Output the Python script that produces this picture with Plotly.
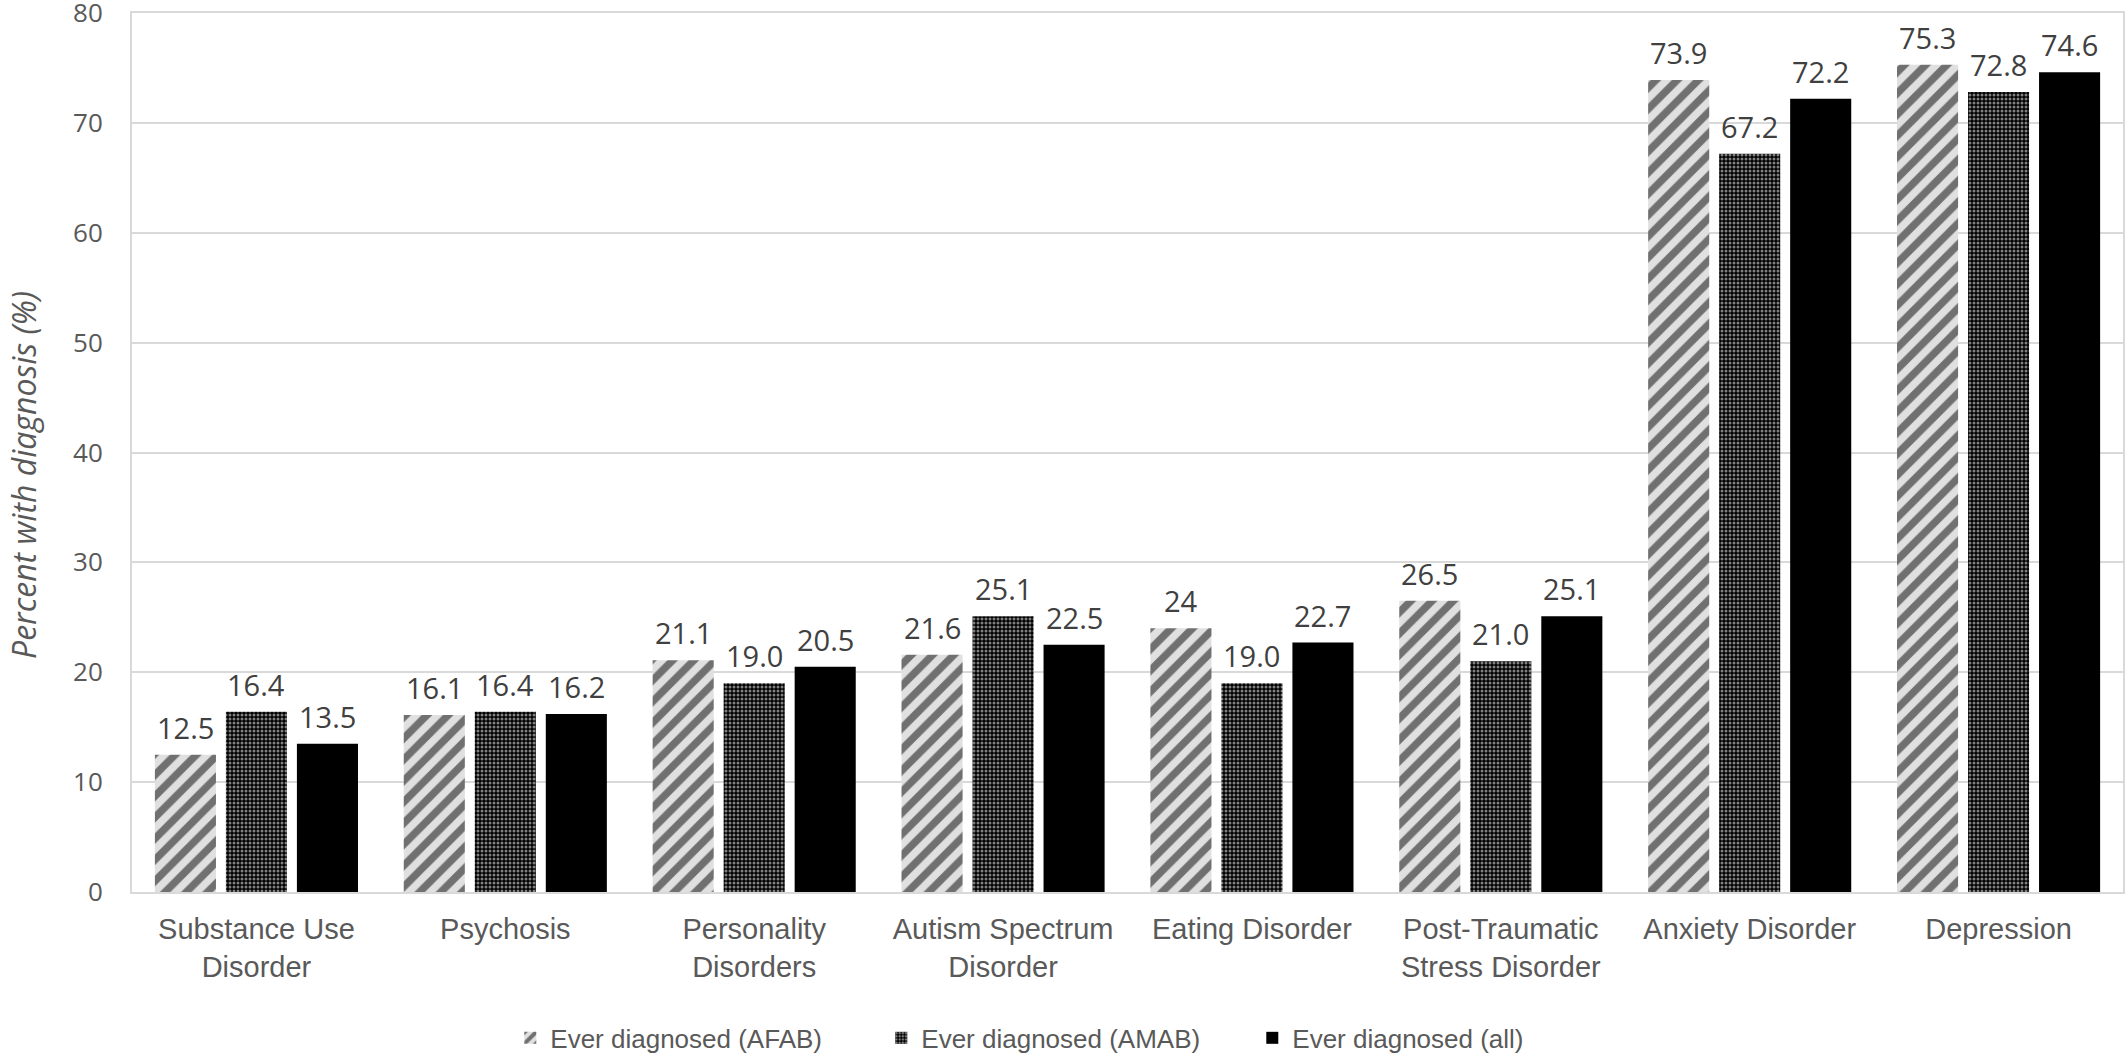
import plotly.graph_objects as go

categories = ["Substance Use<br>Disorder", "Psychosis", "Personality<br>Disorders",
              "Autism Spectrum<br>Disorder", "Eating Disorder",
              "Post-Traumatic<br>Stress Disorder", "Anxiety Disorder", "Depression"]
afab = [12.5, 16.1, 21.1, 21.6, 24, 26.5, 73.9, 75.3]
amab = [16.4, 16.4, 19.0, 25.1, 19.0, 21.0, 67.2, 72.8]
all_ = [13.5, 16.2, 20.5, 22.5, 22.7, 25.1, 72.2, 74.6]
afab_labels = ["12.5", "16.1", "21.1", "21.6", "24", "26.5", "73.9", "75.3"]
amab_labels = ["16.4", "16.4", "19.0", "25.1", "19.0", "21.0", "67.2", "72.8"]
all_labels = ["13.5", "16.2", "20.5", "22.5", "22.7", "25.1", "72.2", "74.6"]
series_names = ["Ever diagnosed (AFAB)", "Ever diagnosed (AMAB)", "Ever diagnosed (all)"]

BARGAP = 0.144
BARGROUPGAP = 0.14

fig = go.Figure()
fig.add_trace(go.Bar(
    x=categories, y=afab, name=series_names[0],
    marker=dict(color="#d9d9d9", line=dict(width=0),
                pattern=dict(shape="/", fgcolor="black", bgcolor="#e0e0e0",
                             size=15, solidity=0.5)),
))
fig.add_trace(go.Bar(
    x=categories, y=amab, name=series_names[1],
    marker=dict(color="black", line=dict(width=0),
                pattern=dict(shape=".", fgcolor="white", bgcolor="black",
                             size=4, solidity=0.45)),
))
fig.add_trace(go.Bar(
    x=categories, y=all_, name=series_names[2],
    marker=dict(color="black", line=dict(width=0)),
))

# data labels placed above each bar of the group
slot = (1 - BARGAP) / 3
label_font = dict(family="Open Sans", size=29, color="#404040")
for j, (vals, labs) in enumerate([(afab, afab_labels), (amab, amab_labels), (all_, all_labels)]):
    for i, (v, t) in enumerate(zip(vals, labs)):
        fig.add_annotation(x=i + (j - 1) * slot, y=v, text=t, showarrow=False,
                           xref="x", yref="y", xanchor="center", yanchor="bottom",
                           yshift=6, font=label_font)

# y-axis title
fig.add_annotation(text="<i>Percent with diagnosis (%)</i>", textangle=-90,
                   xref="paper", yref="paper", x=-0.0545, y=0.475,
                   xanchor="center", yanchor="middle", showarrow=False,
                   font=dict(family="Open Sans", size=32, color="#595959"))

fig.update_layout(
    width=2128, height=1058,
    paper_bgcolor="white", plot_bgcolor="white",
    margin=dict(l=132, r=5, t=13, b=166, autoexpand=False),
    barmode="group", bargap=BARGAP, bargroupgap=BARGROUPGAP,
    showlegend=True,
    legend=dict(orientation="h", x=0.19, xanchor="left", y=-0.166, yanchor="middle",
                font=dict(family="Liberation Sans", size=26, color="#595959"),
                entrywidth=326, entrywidthmode="pixels", traceorder="normal"),
    xaxis=dict(showline=True, linecolor="#d9d9d9", linewidth=2, mirror=True,
               tickfont=dict(family="Liberation Sans", size=29, color="#595959"),
               ticks="", ticklabelstandoff=10, automargin=False),
    yaxis=dict(range=[0, 80], dtick=10, showgrid=True, gridcolor="#d9d9d9", gridwidth=2,
               showline=True, linecolor="#d9d9d9", linewidth=2, mirror=True,
               zeroline=False, automargin=False,
               tickfont=dict(family="Open Sans", size=26, color="#595959"),
               ticklabelstandoff=22, ticklabeloverflow="allow"),
)

fig.write_html("out.html", config={"displayModeBar": False},
               post_script="document.body.style.margin='0px';")
